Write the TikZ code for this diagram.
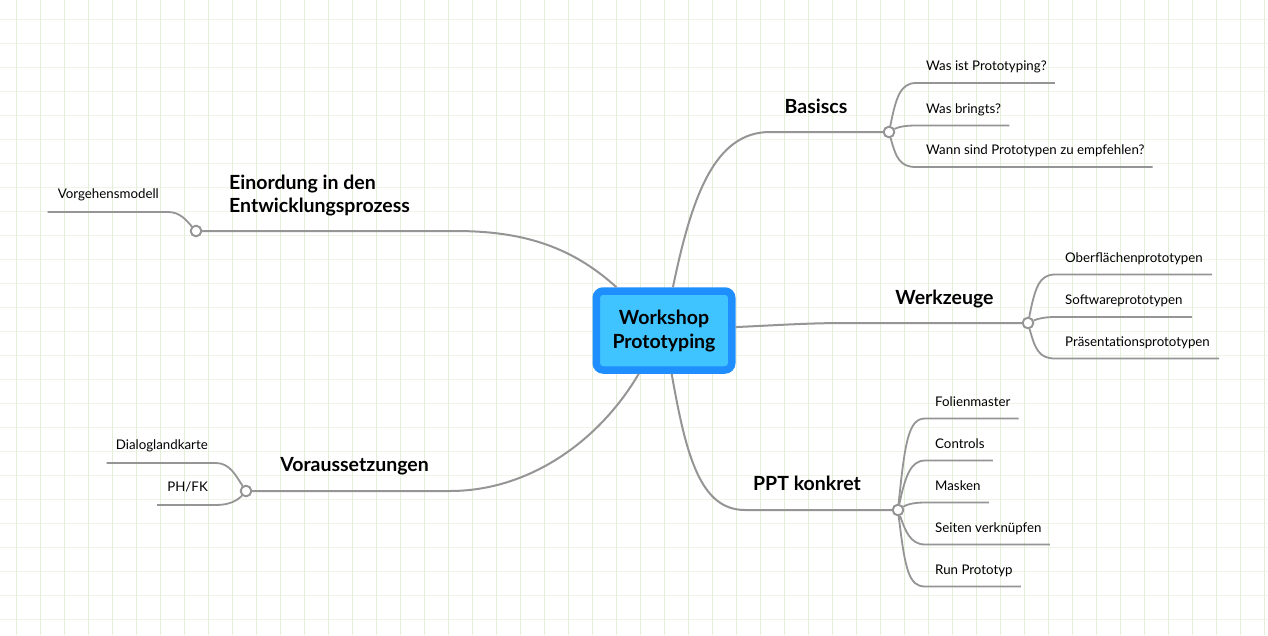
\documentclass[tikz,border=0pt]{standalone}
\usepackage{fontspec}
\setmainfont{Lato}
\usetikzlibrary{calc}
\definecolor{gridv}{RGB}{229,238,216}
\definecolor{gridh}{RGB}{240,244,232}
\definecolor{conn}{HTML}{959595}
\definecolor{outerblue}{HTML}{1F8FFF}
\definecolor{innerblue}{HTML}{40C4FF}
\tikzset{
  centernode/.style={draw=outerblue, fill=innerblue, line width=7.5pt, rounded corners=7pt,
    minimum width=135.5pt, minimum height=79pt, align=center, inner sep=0pt,
    font=\fontsize{19.5}{24}\selectfont\bfseries},
  mainlabel/.style={anchor=base, inner sep=0pt, font=\fontsize{19.5}{23.5}\selectfont\bfseries},
  leaflabel/.style={inner sep=0pt, font=\fontsize{13.3}{16}\selectfont},
  dot/.style={circle, draw=conn, fill=white, line width=1.8pt, minimum size=10.5pt, inner sep=0pt},
  mainconn/.style={draw=conn, line width=2pt},
  leafconn/.style={draw=conn, line width=1.8pt},
}
\begin{document}
\begin{tikzpicture}[x=1pt, y=-1pt]
\useasboundingbox (0,0) rectangle (1268,635);
\fill[white] (0,0) rectangle (1268,635);
% grid
\foreach \y in {19,43,...,619} \draw[gridh, line width=1pt] (0,\y) -- (1268,\y);
\foreach \x in {16,40,...,1264} \draw[gridv, line width=1pt] (\x,0) -- (\x,635);

% centre
\node[centernode] (c) at (664,330.5) {\rule{0pt}{16pt}Workshop\\Prototyping};

% main circles
\node[dot] (b) at (889,132) {};
\node[dot] (w) at (1028,323) {};
\node[dot] (p) at (898,510) {};
\node[dot] (e) at (196,231) {};
\node[dot] (v) at (246,491) {};

% main labels
\node[mainlabel] (bl) at (816,113) {Basiscs};
\node[mainlabel] (wl) at (944.5,304) {Werkzeuge};
\node[mainlabel] (pl) at (807,490) {PPT konkret};
\node[mainlabel] (vl) at (354.5,471) {Voraussetzungen};
\node[mainlabel, anchor=base west, align=left] (el) at (229,212.5) {Einordung in den\\Entwicklungsprozess};

% main connectors
\draw[mainconn] (c) .. controls (692,195) and (715,132) .. (770,132) -- (b);
\draw[mainconn] (c) .. controls (790,324.5) and (810,323) .. (850,323) -- (w);
\draw[mainconn] (c) .. controls (686,455) and (700,510) .. (745,510) -- (p);
\draw[mainconn] (c) .. controls (570,245) and (520,231) .. (455,231) -- (e);
\draw[mainconn] (c) .. controls (600,440) and (530,491) .. (450,491) -- (v);

% Basiscs leaves
\coordinate (b1s) at (916,83);
\coordinate (b2s) at (916,125.5);
\coordinate (b3s) at (916,167);
\node[leaflabel, anchor=base west] (b1) at (926,70.5) {Was ist Prototyping?};
\node[leaflabel, anchor=base west] (b2) at (926,113) {Was bringts?};
\node[leaflabel, anchor=base west] (b3) at (926,154.5) {Wann sind Prototypen zu empfehlen?};
\draw[leafconn] (b) .. controls (896,98) and (900,83) .. (b1s) -- ($(b1s -| b1.east)+(8,0)$);
\draw[leafconn] (b) .. controls (898,127) and (905,125.5) .. (b2s) -- ($(b2s -| b2.east)+(8,0)$);
\draw[leafconn] (b) .. controls (896,158) and (900,167) .. (b3s) -- ($(b3s -| b3.east)+(8,0)$);

% Werkzeuge leaves
\coordinate (w1s) at (1055,274.5);
\coordinate (w2s) at (1055,317);
\coordinate (w3s) at (1055,358.5);
\node[leaflabel, anchor=base west] (w1) at (1065,262) {Oberflächenprototypen};
\node[leaflabel, anchor=base west] (w2) at (1065,304.5) {Softwareprototypen};
\node[leaflabel, anchor=base west] (w3) at (1065,346) {Präsentationsprototypen};
\draw[leafconn] (w) .. controls (1035,288) and (1039,274.5) .. (w1s) -- ($(w1s -| w1.east)+(9,0)$);
\draw[leafconn] (w) .. controls (1037,319) and (1044,317) .. (w2s) -- ($(w2s -| w2.east)+(9,0)$);
\draw[leafconn] (w) .. controls (1035,349) and (1039,358.5) .. (w3s) -- ($(w3s -| w3.east)+(9,0)$);

% PPT leaves
\coordinate (p1s) at (925,418.5);
\coordinate (p2s) at (925,460.5);
\coordinate (p3s) at (925,502.5);
\coordinate (p4s) at (925,544.5);
\coordinate (p5s) at (925,586.5);
\node[leaflabel, anchor=base west] (p1) at (935,406) {Folienmaster};
\node[leaflabel, anchor=base west] (p2) at (935,448) {Controls};
\node[leaflabel, anchor=base west] (p3) at (935,490) {Masken};
\node[leaflabel, anchor=base west] (p4) at (935,532) {Seiten verknüpfen};
\node[leaflabel, anchor=base west] (p5) at (935,574) {Run Prototyp};
\draw[leafconn] (p) .. controls (905,440) and (909,418.5) .. (p1s) -- ($(p1s -| p1.east)+(8,0)$);
\draw[leafconn] (p) .. controls (905,478) and (910,460.5) .. (p2s) -- ($(p2s -| p2.east)+(8,0)$);
\draw[leafconn] (p) .. controls (906,505) and (912,502.5) .. (p3s) -- ($(p3s -| p3.east)+(8,0)$);
\draw[leafconn] (p) .. controls (905,530) and (910,544.5) .. (p4s) -- ($(p4s -| p4.east)+(8,0)$);
\draw[leafconn] (p) .. controls (905,570) and (909,586.5) .. (p5s) -- ($(p5s -| p5.east)+(8,0)$);

% Einordung leaf
\coordinate (e1s) at (168,212);
\node[leaflabel, anchor=base east] (e1) at (159,198.5) {Vorgehensmodell};
\draw[leafconn] (e) .. controls (186,220) and (180,212) .. (e1s) -- ($(e1s -| e1.west)+(-10,0)$);

% Voraussetzungen leaves
\coordinate (v1s) at (216,463);
\coordinate (v2s) at (216,505);
\node[leaflabel, anchor=base east] (v1) at (208,449.5) {Dialoglandkarte};
\node[leaflabel, anchor=base east] (v2) at (208,491) {PH/FK};
\draw[leafconn] (v) .. controls (236,476) and (230,463) .. (v1s) -- ($(v1s -| v1.west)+(-9,0)$);
\draw[leafconn] (v) .. controls (238,500) and (230,505) .. (v2s) -- ($(v2s -| v2.west)+(-10,0)$);

% redraw circles on top
\foreach \n in {b,w,p,e,v} \node[dot] at (\n) {};
\end{tikzpicture}
\end{document}
